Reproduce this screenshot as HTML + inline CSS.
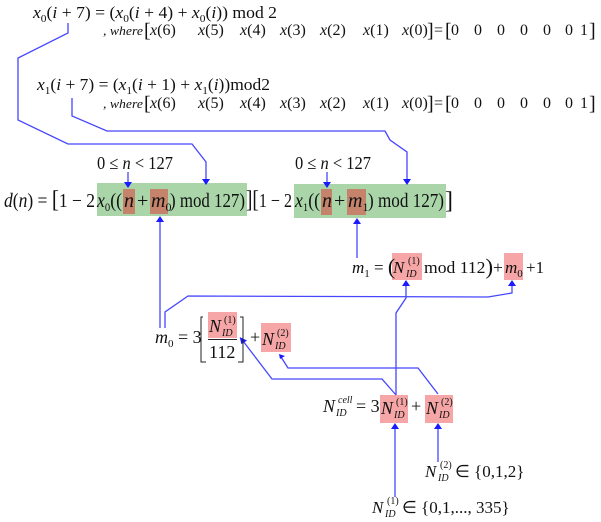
<!DOCTYPE html>
<html><head><meta charset="utf-8"><style>
html,body{margin:0;padding:0;background:#fff;}
svg{display:block;}
text{font-family:"Liberation Serif",serif;fill:#111;}
.i{font-style:italic;}
</style></head><body>
<svg width="601" height="522" viewBox="0 0 601 522" xmlns="http://www.w3.org/2000/svg">
<rect x="97" y="183" width="150" height="33" fill="#a9d5a9"/>
<rect x="294" y="184" width="152" height="34" fill="#a9d5a9"/>
<rect x="123" y="189" width="12" height="25" fill="#c4836a"/>
<rect x="150" y="189" width="18" height="25" fill="#c4836a"/>
<rect x="321" y="189" width="11" height="26" fill="#c4836a"/>
<rect x="347" y="189" width="19" height="26" fill="#c4836a"/>
<rect x="392" y="253" width="30" height="27" fill="#f6a6a6"/>
<rect x="504" y="253" width="19" height="27" fill="#f6a6a6"/>
<rect x="208" y="312" width="29" height="26" fill="#f6a6a6"/>
<rect x="261" y="323" width="30" height="29" fill="#f6a6a6"/>
<rect x="380" y="395" width="28" height="28" fill="#f6a6a6"/>
<rect x="425" y="395" width="28" height="28" fill="#f6a6a6"/>

<g fill="none" stroke="#4646ff" stroke-width="1.3">
<polyline points="68,23 68,33 18,58 18,120 68,144 192,144 206,162 206,180"/>
<polyline points="72,98 72,116 107,131 385,131 390,140 407,152 407,180"/>
<line x1="128" y1="172" x2="128" y2="185"/>
<line x1="327" y1="172" x2="327" y2="185"/>
<line x1="160" y1="328" x2="160" y2="220"/>
<line x1="357" y1="258" x2="357" y2="222"/>
<polyline points="165,328 165,312 188,296 488,297 512,293 512,284"/>
<polyline points="396,395 396,313 406,298 406,284"/>
<polyline points="396,395 382,379 272,379 243,341"/>
<polyline points="438,394 418,368 288,368 281,357"/>
<line x1="395" y1="497" x2="395" y2="427"/>
<line x1="438" y1="462" x2="438" y2="427"/>
</g>
<g fill="#1a1aff">
<polygon points="202,179 210,179 206,185"/>
<polygon points="403,179 411,179 407,185"/>
<polygon points="124,182 132,182 128,188"/>
<polygon points="323,182 331,182 327,188"/>
<polygon points="156,222 164,222 160,216"/>
<polygon points="353,224 361,224 357,218"/>
<polygon points="508,286 516,286 512,280"/>
<polygon points="402,286 410,286 406,280"/>
<polygon points="240,337 247,341 241,344" transform="rotate(-5 242 340)"/>
<polygon points="279,354 285,356 280,359"/>
<polygon points="391,429 399,429 395,423"/>
<polygon points="434,429 442,429 438,423"/>
</g>

<text x="33" y="18" font-size="17" textLength="244" lengthAdjust="spacingAndGlyphs"><tspan class="i">x</tspan><tspan font-size="11" dy="4">0</tspan><tspan dy="-4">(</tspan><tspan class="i">i</tspan> + 7) = (<tspan class="i">x</tspan><tspan font-size="11" dy="4">0</tspan><tspan dy="-4">(</tspan><tspan class="i">i</tspan> + 4) + <tspan class="i">x</tspan><tspan font-size="11" dy="4">0</tspan><tspan dy="-4">(</tspan><tspan class="i">i</tspan>)) mod 2</text>
<text x="37" y="90" font-size="17" textLength="233" lengthAdjust="spacingAndGlyphs"><tspan class="i">x</tspan><tspan font-size="11" dy="4">1</tspan><tspan dy="-4">(</tspan><tspan class="i">i</tspan> + 7) = (<tspan class="i">x</tspan><tspan font-size="11" dy="4">1</tspan><tspan dy="-4">(</tspan><tspan class="i">i</tspan> + 1) + <tspan class="i">x</tspan><tspan font-size="11" dy="4">1</tspan><tspan dy="-4">(</tspan><tspan class="i">i</tspan>))mod2</text>

<g font-size="16">
<g id="w1">
<text x="103" y="35" class="i" font-size="13" textLength="40" lengthAdjust="spacingAndGlyphs">, where</text>
<text x="144" y="37" font-size="20">[</text>
<text x="150" y="35"><tspan class="i">x</tspan>(6)</text>
<text x="198" y="35"><tspan class="i">x</tspan>(5)</text>
<text x="240" y="35"><tspan class="i">x</tspan>(4)</text>
<text x="280" y="35"><tspan class="i">x</tspan>(3)</text>
<text x="320" y="35"><tspan class="i">x</tspan>(2)</text>
<text x="363" y="35"><tspan class="i">x</tspan>(1)</text>
<text x="402" y="35"><tspan class="i">x</tspan>(0)</text>
<text x="427" y="37" font-size="20">]</text>
<text x="434" y="35">=</text>
<text x="445" y="37" font-size="20">[</text>
<text x="451" y="35">0</text><text x="474" y="35">0</text><text x="497" y="35">0</text>
<text x="520" y="35">0</text><text x="543" y="35">0</text><text x="565" y="35">0</text>
<text x="580" y="35">1</text>
<text x="589" y="37" font-size="20">]</text>
</g>
<use href="#w1" y="73"/>
</g>

<g font-size="20">
<text x="4" y="207" textLength="91" lengthAdjust="spacingAndGlyphs"><tspan class="i">d</tspan>(<tspan class="i">n</tspan>) = <tspan font-size="24">[</tspan>1 − 2</text>
<text x="97" y="207" textLength="25" lengthAdjust="spacingAndGlyphs"><tspan class="i">x</tspan><tspan font-size="12" dy="4">0</tspan><tspan dy="-4">((</tspan></text>
<text x="124" y="207" class="i">n</text>
<text x="137" y="207">+</text>
<text x="151" y="207"><tspan class="i">m</tspan><tspan font-size="12" dy="4">0</tspan></text>
<text x="170" y="207" textLength="75" lengthAdjust="spacingAndGlyphs">) mod 127)</text>
<text x="246" y="207" textLength="46" lengthAdjust="spacingAndGlyphs"><tspan font-size="24">]</tspan><tspan font-size="24">[</tspan>1 − 2</text>
<text x="295" y="207" textLength="25" lengthAdjust="spacingAndGlyphs"><tspan class="i">x</tspan><tspan font-size="12" dy="4">1</tspan><tspan dy="-4">((</tspan></text>
<text x="322" y="207" class="i">n</text>
<text x="334" y="207">+</text>
<text x="348" y="207"><tspan class="i">m</tspan><tspan font-size="12" dy="4">1</tspan></text>
<text x="368" y="207" textLength="76" lengthAdjust="spacingAndGlyphs">) mod 127)</text>
<text x="445" y="208" font-size="24">]</text>
</g>
<text x="97" y="169" font-size="18" textLength="76" lengthAdjust="spacingAndGlyphs">0 ≤ <tspan class="i">n</tspan> &lt; 127</text>
<text x="295" y="169" font-size="18" textLength="76" lengthAdjust="spacingAndGlyphs">0 ≤ <tspan class="i">n</tspan> &lt; 127</text>

<g font-size="17">
<text x="352" y="273"><tspan class="i">m</tspan><tspan font-size="11" dy="4">1</tspan><tspan dy="-4"> = </tspan><tspan font-size="22" dy="1">(</tspan></text>
<text x="393" y="273" class="i">N</text>
<text x="408" y="264" font-size="10">(1)</text>
<text x="406" y="277" font-size="10" class="i">ID</text>
<text x="424" y="273" textLength="79" lengthAdjust="spacingAndGlyphs">mod  112<tspan font-size="22" dy="1">)</tspan><tspan dy="-1">+</tspan></text>
<text x="505" y="273"><tspan class="i">m</tspan><tspan font-size="11" dy="4">0</tspan></text>
<text x="526" y="273">+1</text>
</g>

<g font-size="18">
<text x="155" y="343"><tspan class="i">m</tspan><tspan font-size="11" dy="4">0</tspan><tspan dy="-4"> = 3</tspan></text>
<text x="209" y="332" class="i">N</text>
<text x="224" y="323" font-size="10">(1)</text>
<text x="222" y="336" font-size="10" class="i">ID</text>
<text x="209" y="358">112</text>
<text x="250" y="343">+</text>
<text x="262" y="345" class="i">N</text>
<text x="277" y="336" font-size="10">(2)</text>
<text x="275" y="349" font-size="10" class="i">ID</text>
</g>
<g fill="none" stroke="#222" stroke-width="1">
<line x1="208" y1="339.5" x2="237" y2="339.5"/>
<polyline points="203,317 201,317 201,362 206,362"/>
<polyline points="240,317 243,317 243,362 238,362"/>
</g>

<g font-size="18">
<text x="323" y="412" class="i">N</text>
<text x="338" y="403" font-size="10" class="i">cell</text>
<text x="336" y="416" font-size="10" class="i">ID</text>
<text x="356" y="412">= 3</text>
<text x="381" y="414" class="i">N</text>
<text x="396" y="405" font-size="10">(1)</text>
<text x="394" y="418" font-size="10" class="i">ID</text>
<text x="411" y="412">+</text>
<text x="426" y="414" class="i">N</text>
<text x="441" y="405" font-size="10">(2)</text>
<text x="439" y="418" font-size="10" class="i">ID</text>
</g>
<g font-size="17">
<text x="425" y="477" class="i">N</text>
<text x="440" y="468" font-size="10">(2)</text>
<text x="438" y="481" font-size="10" class="i">ID</text>
<text x="455" y="477">∈ {0,1,2}</text>
<text x="372" y="513" class="i">N</text>
<text x="387" y="504" font-size="10">(1)</text>
<text x="385" y="517" font-size="10" class="i">ID</text>
<text x="402" y="513">∈ {0,1,..., 335}</text>
</g>
</svg>
</body></html>
